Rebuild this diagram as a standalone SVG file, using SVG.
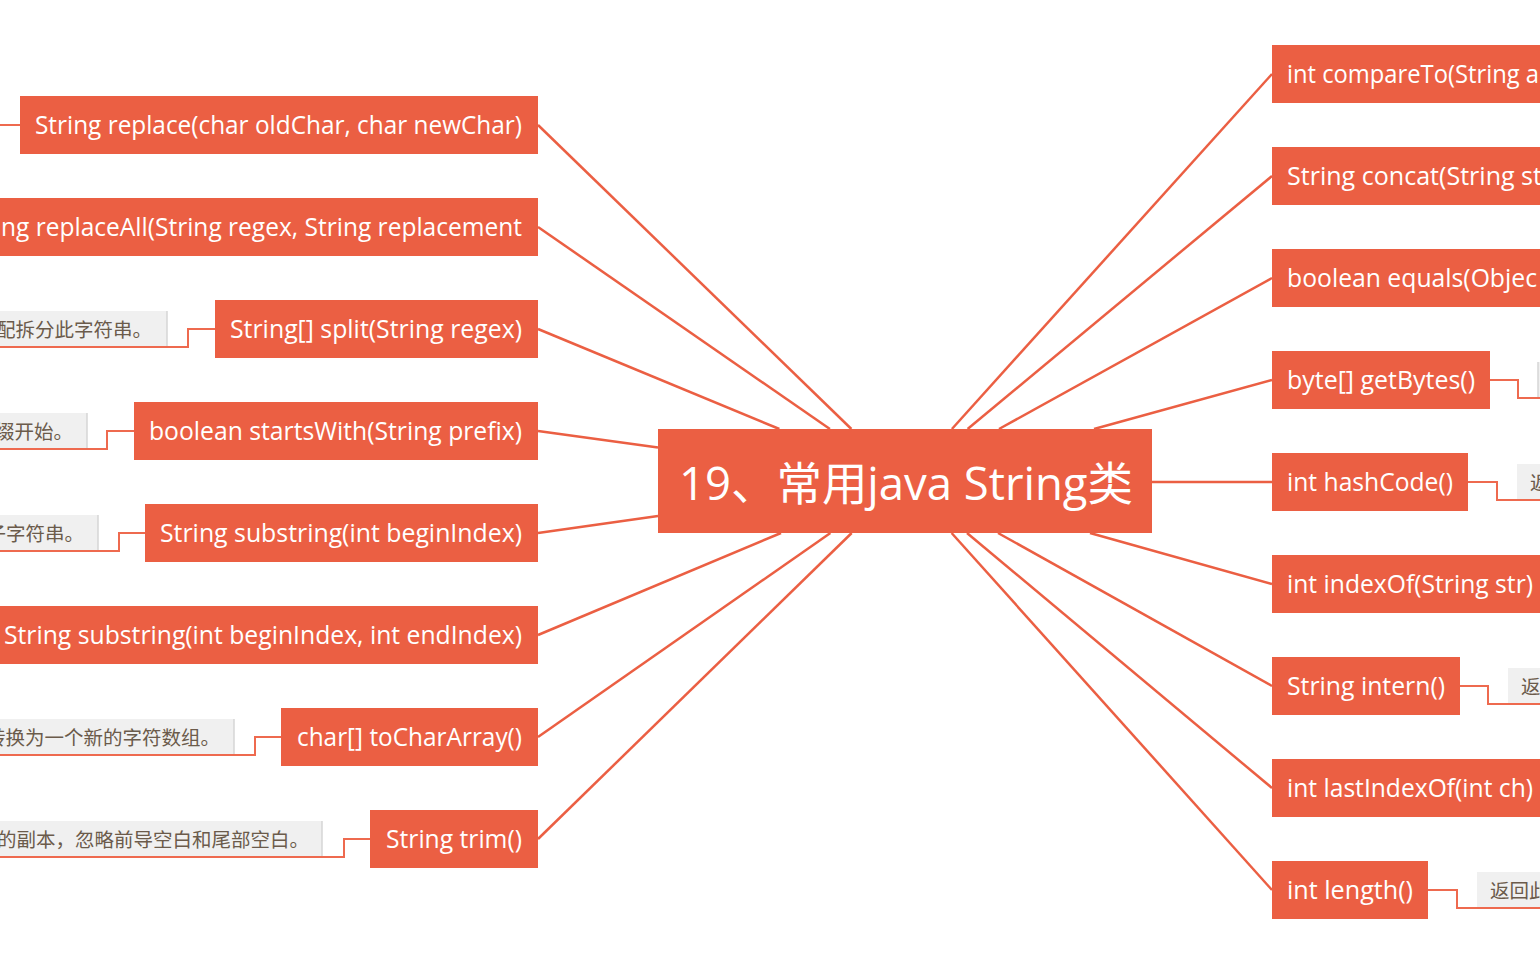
<svg xmlns="http://www.w3.org/2000/svg" width="1540" height="963" viewBox="0 0 1540 963">
<style>
.n{fill:#EB5F43}
.t{fill:#FFFFFF;font-family:"Open Sans","Noto Sans CJK SC",sans-serif;font-size:25px}
.c{fill:#FFFFFF;font-family:"Open Sans","Noto Sans CJK SC",sans-serif;font-size:46px}
.note{fill:#F0F0F0}
.nb{stroke:#D6D6D6;stroke-width:1.5}
.nt{fill:#6B5B4B;font-family:"Noto Sans CJK SC","Noto Sans",sans-serif;font-size:19.5px}
.l{stroke:#EB5F43;stroke-width:2.5;fill:none}
.e{stroke:#EE6A4F;stroke-width:2;fill:none}
</style>
<rect width="1540" height="963" fill="#FFFFFF"/>

<g id="notes">
  <g id="note-split"><rect class="note" x="-10" y="311" width="177" height="36"/><line class="nb" x1="167" y1="311" x2="167" y2="347"/><text class="nt" x="152" y="337" text-anchor="end">配拆分此字符串。</text></g>
  <g id="note-startsWith"><rect class="note" x="-10" y="413" width="97" height="36"/><line class="nb" x1="87" y1="413" x2="87" y2="449"/><text class="nt" x="73" y="439" text-anchor="end">缀开始。</text></g>
  <g id="note-substring1"><rect class="note" x="-10" y="515" width="108" height="36"/><line class="nb" x1="98" y1="515" x2="98" y2="551"/><text class="nt" x="84" y="541" text-anchor="end">子字符串。</text></g>
  <g id="note-toCharArray"><rect class="note" x="-10" y="719" width="244" height="36"/><line class="nb" x1="234" y1="719" x2="234" y2="755"/><text class="nt" x="220" y="745" text-anchor="end">转换为一个新的字符数组。</text></g>
  <g id="note-trim"><rect class="note" x="-10" y="821" width="332" height="36"/><line class="nb" x1="322" y1="821" x2="322" y2="857"/><text class="nt" x="309" y="847" text-anchor="end">的副本，忽略前导空白和尾部空白。</text></g>
  <g id="note-getBytes"><rect class="note" x="1538" y="362" width="20" height="36"/><line class="nb" x1="1538" y1="362" x2="1538" y2="398"/></g>
  <g id="note-hashCode"><rect class="note" x="1517" y="464" width="40" height="36"/><text class="nt" x="1530" y="490">返</text></g>
  <g id="note-intern"><rect class="note" x="1508" y="668" width="50" height="36"/><text class="nt" x="1521" y="694">返</text></g>
  <g id="note-length"><rect class="note" x="1477" y="872" width="80" height="36"/><text class="nt" x="1490" y="898">返回此</text></g>
</g>

<g id="connectors">
  <line class="l" x1="851.4" y1="429" x2="538" y2="125"/>
  <line class="l" x1="829.9" y1="429" x2="538" y2="227"/>
  <line class="l" x1="779.4" y1="429" x2="538" y2="329"/>
  <line class="l" x1="658" y1="447.4" x2="538" y2="431"/>
  <line class="l" x1="658" y1="516" x2="538" y2="533"/>
  <line class="l" x1="781" y1="533" x2="538" y2="635"/>
  <line class="l" x1="830.4" y1="533" x2="538" y2="737"/>
  <line class="l" x1="851.7" y1="533" x2="538" y2="839"/>
  <line class="l" x1="951.9" y1="429" x2="1272" y2="74"/>
  <line class="l" x1="967.6" y1="429" x2="1272" y2="176"/>
  <line class="l" x1="999" y1="429" x2="1272" y2="278"/>
  <line class="l" x1="1094" y1="429" x2="1272" y2="380"/>
  <line class="l" x1="1152" y1="482" x2="1272" y2="482"/>
  <line class="l" x1="1090" y1="533" x2="1272" y2="584"/>
  <line class="l" x1="998" y1="533" x2="1272" y2="686"/>
  <line class="l" x1="967" y1="533" x2="1272" y2="788"/>
  <line class="l" x1="951.6" y1="533" x2="1272" y2="890"/>
  <path class="e" d="M20,125 H0"/>
  <path class="e" d="M215,329 H188 V347 H0"/>
  <path class="e" d="M134,431 H107 V449 H0"/>
  <path class="e" d="M145,533 H119 V551 H0"/>
  <path class="e" d="M281,737 H255 V755 H0"/>
  <path class="e" d="M370,839 H344 V857 H0"/>
  <path class="e" d="M1490,380 H1518 V398 H1540"/>
  <path class="e" d="M1468,482 H1497 V500 H1540"/>
  <path class="e" d="M1460,686 H1488 V704 H1540"/>
  <path class="e" d="M1428,890 H1457 V908 H1540"/>
</g>

<g id="center">
  <rect class="n" x="658" y="429" width="494" height="104"/>
  <text class="c" x="679" y="500" textLength="454" lengthAdjust="spacingAndGlyphs">19、常用java String类</text>
</g>

<g id="replace"><rect class="n" x="20" y="96" width="518" height="58"/><text class="t" x="35" y="134" textLength="487" lengthAdjust="spacingAndGlyphs">String replace(char oldChar, char newChar)</text></g>
<g id="replaceAll"><rect class="n" x="-5" y="198" width="543" height="58"/><text class="t" x="1" y="236" textLength="521" lengthAdjust="spacingAndGlyphs">ng replaceAll(String regex, String replacement</text></g>
<g id="split"><rect class="n" x="215" y="300" width="323" height="58"/><text class="t" x="230" y="338" textLength="292" lengthAdjust="spacingAndGlyphs">String[] split(String regex)</text></g>
<g id="startsWith"><rect class="n" x="134" y="402" width="404" height="58"/><text class="t" x="149" y="440" textLength="373" lengthAdjust="spacingAndGlyphs">boolean startsWith(String prefix)</text></g>
<g id="substring1"><rect class="n" x="145" y="504" width="393" height="58"/><text class="t" x="160" y="542" textLength="362" lengthAdjust="spacingAndGlyphs">String substring(int beginIndex)</text></g>
<g id="substring2"><rect class="n" x="-5" y="606" width="543" height="58"/><text class="t" x="4" y="644" textLength="518" lengthAdjust="spacingAndGlyphs">String substring(int beginIndex, int endIndex)</text></g>
<g id="toCharArray"><rect class="n" x="281" y="708" width="257" height="58"/><text class="t" x="297" y="746" textLength="225" lengthAdjust="spacingAndGlyphs">char[] toCharArray()</text></g>
<g id="trim"><rect class="n" x="370" y="810" width="168" height="58"/><text class="t" x="386" y="848" textLength="136" lengthAdjust="spacingAndGlyphs">String trim()</text></g>

<g id="compareTo"><rect class="n" x="1272" y="45" width="275" height="58"/><text class="t" x="1287" y="83" textLength="252" lengthAdjust="spacingAndGlyphs">int compareTo(String a</text></g>
<g id="concat"><rect class="n" x="1272" y="147" width="275" height="58"/><text class="t" x="1287" y="185" textLength="255" lengthAdjust="spacingAndGlyphs">String concat(String st</text></g>
<g id="equals"><rect class="n" x="1272" y="249" width="275" height="58"/><text class="t" x="1287" y="287" textLength="250" lengthAdjust="spacingAndGlyphs">boolean equals(Objec</text></g>
<g id="getBytes"><rect class="n" x="1272" y="351" width="218" height="58"/><text class="t" x="1287" y="389" textLength="188" lengthAdjust="spacingAndGlyphs">byte[] getBytes()</text></g>
<g id="hashCode"><rect class="n" x="1272" y="453" width="196" height="58"/><text class="t" x="1287" y="491" textLength="166" lengthAdjust="spacingAndGlyphs">int hashCode()</text></g>
<g id="indexOf"><rect class="n" x="1272" y="555" width="275" height="58"/><text class="t" x="1287" y="593" textLength="246" lengthAdjust="spacingAndGlyphs">int indexOf(String str)</text></g>
<g id="intern"><rect class="n" x="1272" y="657" width="188" height="58"/><text class="t" x="1287" y="695" textLength="158" lengthAdjust="spacingAndGlyphs">String intern()</text></g>
<g id="lastIndexOf"><rect class="n" x="1272" y="759" width="275" height="58"/><text class="t" x="1287" y="797" textLength="246" lengthAdjust="spacingAndGlyphs">int lastIndexOf(int ch)</text></g>
<g id="length"><rect class="n" x="1272" y="861" width="156" height="58"/><text class="t" x="1287" y="899" textLength="126" lengthAdjust="spacingAndGlyphs">int length()</text></g>
</svg>
